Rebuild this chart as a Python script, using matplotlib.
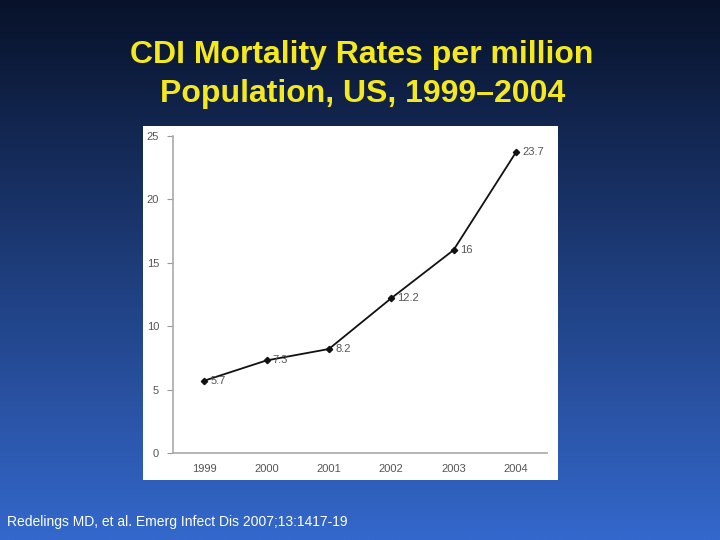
import numpy as np
import matplotlib
matplotlib.use("Agg")
from matplotlib import pyplot as plt
from matplotlib.patches import Rectangle

years = [1999, 2000, 2001, 2002, 2003, 2004]
rates = [5.7, 7.3, 8.2, 12.2, 16, 23.7]
labels = ["5.7", "7.3", "8.2", "12.2", "16", "23.7"]
yticks = [0, 5, 10, 15, 20, 25]

title = "CDI Mortality Rates per million\nPopulation, US, 1999\u20132004"
source = "Redelings MD, et al. Emerg Infect Dis 2007;13:1417-19"

plt.rcParams['font.family'] = ['Liberation Sans', 'DejaVu Sans']

fig = plt.figure(figsize=(7.2, 5.4), dpi=100)

# gradient background + white panel behind the chart
bg = fig.add_axes([0, 0, 1, 1], zorder=-1)
top = np.array([8, 18, 42]) / 255
bot = np.array([52, 104, 204]) / 255
t = np.linspace(0, 1, 256)[:, None]
grad = top + (bot - top) * t
grad = np.repeat(grad[:, None, :], 2, axis=1)
bg.imshow(grad, aspect='auto', extent=[0, 1, 0, 1])
bg.add_patch(Rectangle((143/720, 1-480/540), 415/720, 354/540,
                       facecolor='white', edgecolor='none'))
bg.set_xlim(0, 1)
bg.set_ylim(0, 1)
bg.set_axis_off()

fig.text(0.503, 0.862, title, ha='center', va='center', color='#f5e81c',
         fontsize=23, fontweight='bold', linespacing=1.38)
fig.text(0.01, 0.033, source, ha='left', va='center', color='white', fontsize=10)

ax = fig.add_axes([173/720, 1-453/540, 374/720, 317/540])
ax.set_facecolor('none')
ax.plot(years, rates, color='#111111', lw=1.3, marker='D', ms=3.2)
for x, y, s in zip(years, rates, labels):
    ax.text(x + 0.1, y, s, fontsize=8, color='#555555', va='center', ha='left')

ax.set_xlim(1998.5, 2004.5)
ax.set_ylim(0, 25)
ax.set_xticks(years)
ax.set_yticks(yticks)
ax.tick_params(axis='x', length=0, labelsize=8, colors='#555555', pad=8)
ax.tick_params(axis='y', length=4, labelsize=8, colors='#999999',
               labelcolor='#555555', pad=6)
for s in ['top', 'right']:
    ax.spines[s].set_visible(False)
for s in ['left', 'bottom']:
    ax.spines[s].set_color('#aaaaaa')
    ax.spines[s].set_linewidth(1.2)

fig.savefig("out.png", dpi=100)
